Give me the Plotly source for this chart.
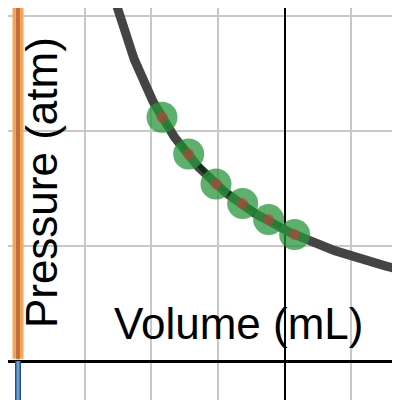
import plotly.graph_objects as go
import numpy as np

vol = [-1.84, -1.44, -1.03, -0.63, -0.24, 0.15]
pres = [2.12, 1.80, 1.54, 1.37, 1.23, 1.10]
k, d = 4.55, 3.99  # fitted hyperbola P = k/(V+d)
xs = np.linspace(-2.75, 2.05, 300)
ys = k / (xs + d)

fig = go.Figure()
fig.add_trace(go.Scatter(x=xs, y=ys, mode="lines", line=dict(color="#444", width=9)))
fig.add_trace(go.Scatter(x=[-4.0, -4.0], y=[0, -0.6], mode="lines", line=dict(color="#1f4e8a", width=6)))
fig.add_trace(go.Scatter(x=[-4.0, -4.0], y=[0, -0.6], mode="lines", line=dict(color="#6f9fd0", width=3)))
fig.add_trace(go.Scatter(x=[-4.0, -4.0], y=[0.02, 3.3], mode="lines", line=dict(color="#f5a55a", width=11)))
fig.add_trace(go.Scatter(x=[-4.0, -4.0], y=[0.02, 3.3], mode="lines", line=dict(color="#c07038", width=4)))
fig.add_trace(go.Scatter(x=vol, y=pres, mode="lines", line=dict(color="#123018", width=5, dash="dash")))
fig.add_trace(go.Scatter(x=vol, y=pres, mode="markers",
                         marker=dict(size=31, color="rgba(40,150,60,0.75)")))
fig.add_trace(go.Scatter(x=vol, y=pres, mode="markers",
                         marker=dict(size=11, color="rgba(200,60,60,0.6)")))

fig.add_annotation(x=-0.7, y=0.33, text="Volume (mL)", showarrow=False,
                   font=dict(family="Liberation Sans", size=44, color="black"))
fig.add_annotation(x=-3.65, y=1.55, text="Pressure (atm)", showarrow=False, textangle=-90,
                   font=dict(family="Liberation Sans", size=44, color="black"))

fig.update_layout(width=408, height=408, margin=dict(l=0, r=0, t=0, b=0),
                  plot_bgcolor="white", paper_bgcolor="white", showlegend=False)
fig.update_xaxes(range=[-4.15, 1.97], dtick=1, gridcolor="#c8c8c8", gridwidth=1.5,
                 zeroline=True, zerolinecolor="black", zerolinewidth=2, showticklabels=False)
fig.update_yaxes(range=[-0.478, 3.07], dtick=1, gridcolor="#c8c8c8", gridwidth=1.5,
                 zeroline=True, zerolinecolor="black", zerolinewidth=3, showticklabels=False)
fig.write_html("out.html")
